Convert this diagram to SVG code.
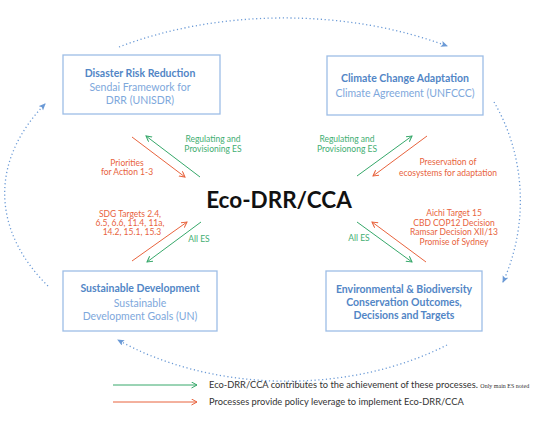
<svg xmlns="http://www.w3.org/2000/svg" width="547" height="424" viewBox="0 0 547 424">
<style>
.box{fill:#fff;stroke:#9dbde6;stroke-width:1.3}
.t{font-family:Lato,"Open Sans",sans-serif;text-anchor:middle}
.title{font-size:10.5px;font-weight:bold;fill:#5286c6}
.sub{font-size:10.5px;fill:#7ea8dc}
.gl{font-size:8.5px;fill:#3fae72}
.rl{font-size:8.5px;fill:#e8633d}
.g{stroke:#36a86a;stroke-width:1;fill:none}
.r{stroke:#e8633d;stroke-width:1;fill:none}
.dot{stroke:#6b9ad6;stroke-width:1.3;fill:none;stroke-dasharray:1.2 2.6}
.leg{font-family:Lato,"Open Sans",sans-serif;font-size:9.3px;fill:#333}
</style>
<defs>
<marker id="ag" markerWidth="8" markerHeight="8" refX="6" refY="3" orient="auto" markerUnits="userSpaceOnUse"><path d="M0.5,0 L6,3 L0.5,6" fill="none" stroke="#36a86a" stroke-width="1"/></marker>
<marker id="ar" markerWidth="8" markerHeight="8" refX="6" refY="3" orient="auto" markerUnits="userSpaceOnUse"><path d="M0.5,0 L6,3 L0.5,6" fill="none" stroke="#e8633d" stroke-width="1"/></marker>
<marker id="ab" markerWidth="8" markerHeight="8" refX="6" refY="3" orient="auto" markerUnits="userSpaceOnUse"><path d="M0,0 L7,3 L0,6 L1.5,3 Z" fill="#6b9ad6"/></marker>
</defs>
<rect width="547" height="424" fill="#fff"/>

<g id="cycle">
<path class="dot" d="M119,47 A305,182 0 0 1 447,46" marker-end="url(#ab)"/>
<path class="dot" d="M494,102 A165,182 0 0 1 503,282" marker-end="url(#ab)"/>
<path class="dot" d="M447,345 A267,182 0 0 1 118,340" marker-end="url(#ab)"/>
<path class="dot" d="M48,286 A312,182 0 0 1 45,104" marker-end="url(#ab)"/>
</g>

<g id="node-drr">
<rect class="box" x="63" y="55" width="157" height="59"/>
<text class="t title" x="140" y="76.5">Disaster Risk Reduction</text>
<text class="t sub" x="140" y="90.5">Sendai Framework for</text>
<text class="t sub" x="140" y="103.5">DRR (UNISDR)</text>
</g>
<g id="node-cca">
<rect class="box" x="327" y="56" width="156" height="59"/>
<text class="t title" x="405" y="81.5">Climate Change Adaptation</text>
<text class="t sub" x="405" y="96.5">Climate Agreement (UNFCCC)</text>
</g>
<g id="node-sd">
<rect class="box" x="63" y="271" width="154" height="60"/>
<text class="t title" x="140" y="291.5">Sustainable Development</text>
<text class="t sub" x="140" y="306.5">Sustainable</text>
<text class="t sub" x="140" y="319.5">Development Goals (UN)</text>
</g>
<g id="node-env">
<rect class="box" x="326" y="271" width="156" height="60"/>
<text class="t title" x="404" y="292.5">Environmental &amp; Biodiversity</text>
<text class="t title" x="404" y="305.5">Conservation Outcomes,</text>
<text class="t title" x="404" y="318.5">Decisions and Targets</text>
</g>
<g id="node-center">
<text class="t" x="279" y="207.5" font-size="22.5" font-weight="bold" fill="#111">Eco-DRR/CCA</text>
</g>

<g id="connectors">
<line class="r" x1="132" y1="137" x2="185" y2="177" marker-end="url(#ar)"/>
<line class="g" x1="200" y1="177" x2="146" y2="136" marker-end="url(#ag)"/>
<line class="g" x1="357" y1="176" x2="412" y2="136" marker-end="url(#ag)"/>
<line class="r" x1="427" y1="136" x2="373" y2="176" marker-end="url(#ar)"/>
<line class="r" x1="132" y1="261" x2="187" y2="222" marker-end="url(#ar)"/>
<line class="g" x1="201" y1="222" x2="147" y2="262" marker-end="url(#ag)"/>
<line class="g" x1="357" y1="222" x2="412" y2="262" marker-end="url(#ag)"/>
<line class="r" x1="426" y1="262" x2="372" y2="222" marker-end="url(#ar)"/>
</g>

<g id="labels">
<text class="t gl" x="213" y="142">Regulating and</text>
<text class="t gl" x="213" y="152">Provisioning ES</text>
<text class="t rl" x="127" y="166">Priorities</text>
<text class="t rl" x="127" y="175">for Action 1-3</text>
<text class="t gl" x="347" y="142">Regulating and</text>
<text class="t gl" x="347" y="152">Provisionong ES</text>
<text class="t rl" x="448" y="165">Preservation of</text>
<text class="t rl" x="448" y="176">ecosystems for adaptation</text>
<text class="t rl" x="130" y="217" font-size="8">SDG  Targets  2.4,</text>
<text class="t rl" x="130" y="226" font-size="8">6.5, 6.6, 11.4, 11a,</text>
<text class="t rl" x="132" y="235" font-size="8">14.2, 15.1, 15.3</text>
<text class="t gl" x="199" y="242">All ES</text>
<text class="t gl" x="359" y="241">All ES</text>
<text class="t rl" x="454" y="216">Aichi Target 15</text>
<text class="t rl" x="454" y="225.7">CBD COP12  Decision</text>
<text class="t rl" x="454" y="235.3">Ramsar Decision XII/13</text>
<text class="t rl" x="454" y="245">Promise of Sydney</text>
</g>

<g id="legend">
<line class="g" x1="113" y1="385" x2="197" y2="385" marker-end="url(#ag)"/>
<line class="r" x1="113" y1="402" x2="197" y2="402" marker-end="url(#ar)"/>
<text class="leg" x="209" y="388">Eco-DRR/CCA contributes to the achievement of these processes. <tspan font-family="'Liberation Serif',serif" font-size="6">Only main ES noted</tspan></text>
<text class="leg" x="209" y="405">Processes provide policy leverage to implement Eco-DRR/CCA</text>
</g>
</svg>
